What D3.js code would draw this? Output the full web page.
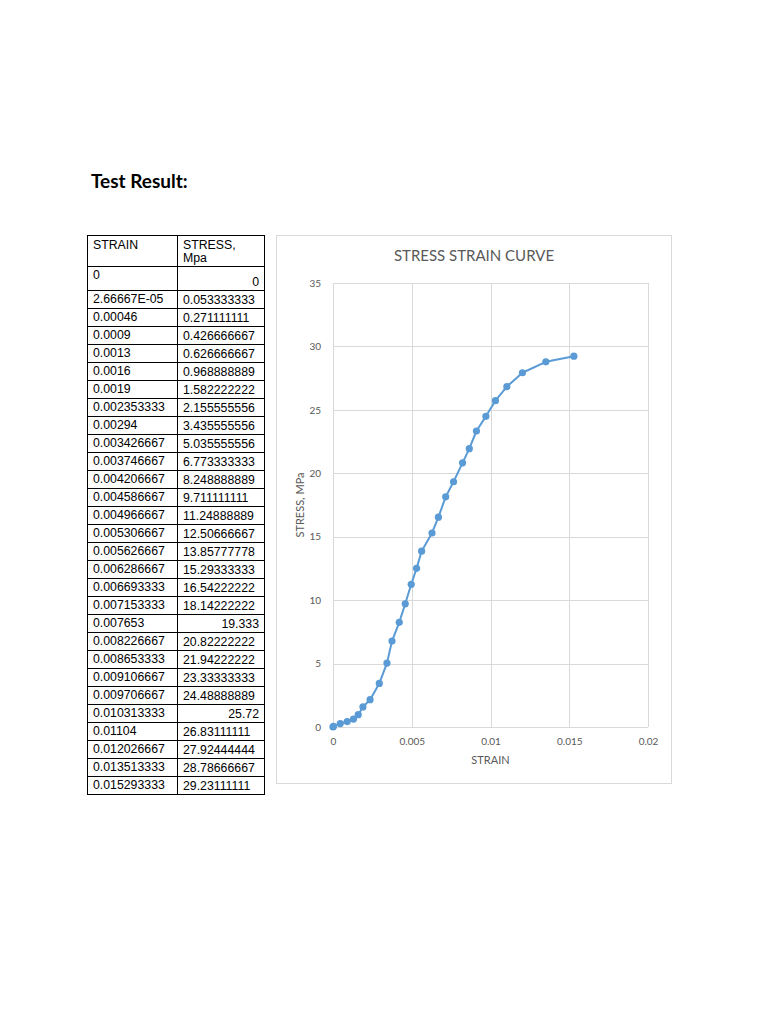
<!DOCTYPE html>
<html>
<head>
<meta charset="utf-8">
<script src="https://cdn.jsdelivr.net/npm/d3@7"></script>
<style>
  body { margin: 0; background: #fff; }
  svg { display: block; }
</style>
</head>
<body>
<script>
// values as they are written in the sheet
var strainText = ["0", "2.66667E-05", "0.00046", "0.0009", "0.0013", "0.0016", "0.0019",
  "0.002353333", "0.00294", "0.003426667", "0.003746667", "0.004206667", "0.004586667",
  "0.004966667", "0.005306667", "0.005626667", "0.006286667", "0.006693333", "0.007153333",
  "0.007653", "0.008226667", "0.008653333", "0.009106667", "0.009706667", "0.010313333",
  "0.01104", "0.012026667", "0.013513333", "0.015293333"];
var stressText = ["0", "0.053333333", "0.271111111", "0.426666667", "0.626666667", "0.968888889",
  "1.582222222", "2.155555556", "3.435555556", "5.035555556", "6.773333333", "8.248888889",
  "9.711111111", "11.24888889", "12.50666667", "13.85777778", "15.29333333", "16.54222222",
  "18.14222222", "19.333", "20.82222222", "21.94222222", "23.33333333", "24.48888889",
  "25.72", "26.83111111", "27.92444444", "28.78666667", "29.23111111"];
var tableHeader = ["STRAIN", ["STRESS,", "Mpa"]];
var xTicks = [0, 0.005, 0.01, 0.015, 0.02];
var yTicks = [0, 5, 10, 15, 20, 25, 30, 35];

var data = strainText.map(function(s, i) {
  return { strain: +s, stress: +stressText[i] };
});

var svg = d3.select("body").append("svg")
  .attr("width", 768)
  .attr("height", 1024);

svg.append("text")
  .attr("x", 91)
  .attr("y", 188)
  .style("font-family", "Lato, 'Open Sans', sans-serif")
  .style("font-weight", "bold")
  .style("font-size", "19px")
  .attr("fill", "#000")
  .text("Test Result:");

// ---- table ----
var tab = { left: 87, mid: 177, right: 264, top: 235, headH: 31, firstH: 24, rowH: 18.0 };
var tg = svg.append("g").style("font-family", "'Liberation Sans', Arial, sans-serif")
  .style("font-size", "12.3px").attr("fill", "#000");

var rowTops = [tab.top, tab.top + tab.headH];
rowTops.push(rowTops[1] + tab.firstH);
for (var i = 1; i < strainText.length; i++) rowTops.push(rowTops[rowTops.length - 1] + tab.rowH);
var tabBottom = rowTops[rowTops.length - 1];

rowTops.forEach(function(y) {
  tg.append("line").attr("x1", tab.left).attr("x2", tab.right + 1)
    .attr("y1", y + 0.5).attr("y2", y + 0.5).attr("stroke", "#000").attr("stroke-width", 1);
});
[tab.left, tab.mid, tab.right].forEach(function(x) {
  tg.append("line").attr("x1", x + 0.5).attr("x2", x + 0.5)
    .attr("y1", tab.top).attr("y2", tabBottom + 1).attr("stroke", "#000").attr("stroke-width", 1);
});

tg.append("text").attr("x", tab.left + 6).attr("y", tab.top + 14).text(tableHeader[0]);
tableHeader[1].forEach(function(t, k) {
  tg.append("text").attr("x", tab.mid + 6).attr("y", tab.top + 14 + k * 13).text(t);
});

strainText.forEach(function(s, i) {
  var top = rowTops[i + 1], h = rowTops[i + 2] - top;
  tg.append("text").attr("x", tab.left + 6).attr("y", top + 13).text(s);
  var st = stressText[i];
  var numeric = st.length < 8;   // short numbers sit right in the cell
  tg.append("text")
    .attr("x", numeric ? tab.right - 5 : tab.mid + 6)
    .attr("y", top + h - 4)
    .attr("text-anchor", numeric ? "end" : "start")
    .text(st);
});

// ---- chart ----
var box = { x: 276.5, y: 235.5, w: 395, h: 548 };
svg.append("rect")
  .attr("x", box.x).attr("y", box.y)
  .attr("width", box.w).attr("height", box.h)
  .attr("fill", "#fff").attr("stroke", "#d9d9d9");

var plot = { left: 333, right: 648, top: 283, bottom: 727 };
var xScale = d3.scaleLinear().domain([0, 0.02]).range([plot.left, plot.right]);
var yScale = d3.scaleLinear().domain([0, 35]).range([plot.bottom, plot.top]);

var fontChart = "Lato, 'Open Sans', sans-serif";
var grey = "#595959";

var grid = svg.append("g").attr("stroke", "#d9d9d9").attr("stroke-width", 1);
grid.selectAll(".hg").data(yTicks).enter().append("line")
  .attr("x1", plot.left).attr("x2", plot.right)
  .attr("y1", d => Math.round(yScale(d)) + 0.5).attr("y2", d => Math.round(yScale(d)) + 0.5);
grid.selectAll(".vg").data(xTicks).enter().append("line")
  .attr("y1", plot.top).attr("y2", plot.bottom)
  .attr("x1", d => Math.round(xScale(d)) + 0.5).attr("x2", d => Math.round(xScale(d)) + 0.5);

var yAxis = d3.axisLeft(yScale).tickValues(yTicks).tickSize(0).tickPadding(12);
var gy = svg.append("g").attr("transform", "translate(" + plot.left + ",0)").call(yAxis);
var xAxis = d3.axisBottom(xScale).tickValues(xTicks).tickSize(0).tickPadding(11)
  .tickFormat(d => d === 0 ? "0" : String(+d.toFixed(3)));
var gx = svg.append("g").attr("transform", "translate(0," + plot.bottom + ")").call(xAxis);
[gx, gy].forEach(function(g) {
  g.select(".domain").remove();
  g.selectAll("text").attr("fill", grey).style("font-family", fontChart).style("font-size", "10px");
});

svg.append("text")
  .attr("x", (box.x + box.x + box.w) / 2 + 0)
  .attr("y", 261)
  .attr("text-anchor", "middle")
  .attr("fill", grey)
  .style("font-family", fontChart)
  .style("font-size", "15px")
  .text("STRESS STRAIN CURVE");

svg.append("text")
  .attr("x", (plot.left + plot.right) / 2)
  .attr("y", 764)
  .attr("text-anchor", "middle")
  .attr("fill", grey)
  .style("font-family", fontChart)
  .style("font-size", "11px")
  .text("STRAIN");

svg.append("text")
  .attr("transform", "translate(304," + (plot.top + plot.bottom) / 2 + ") rotate(-90)")
  .attr("text-anchor", "middle")
  .attr("fill", grey)
  .style("font-family", fontChart)
  .style("font-size", "11px")
  .text("STRESS, MPa");

var line = d3.line()
  .x(d => xScale(d.strain))
  .y(d => yScale(d.stress));

svg.append("path")
  .datum(data)
  .attr("d", line)
  .attr("fill", "none")
  .attr("stroke", "#5b9bd5")
  .attr("stroke-width", 2)
  .attr("stroke-linejoin", "round");

svg.append("g").selectAll(".dot")
  .data(data)
  .enter().append("circle")
  .attr("class", "dot")
  .attr("cx", d => xScale(d.strain))
  .attr("cy", d => yScale(d.stress))
  .attr("r", 3.6)
  .attr("fill", "#5b9bd5");
</script>
</body>
</html>
